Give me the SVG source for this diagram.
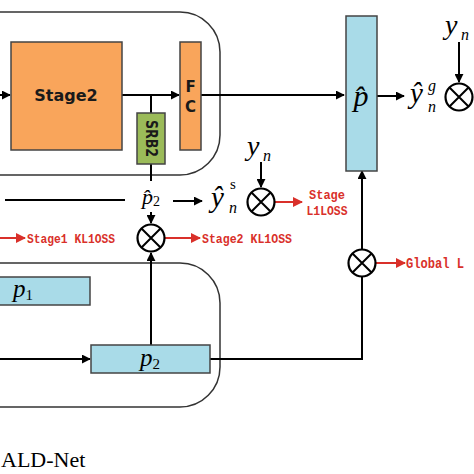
<svg xmlns="http://www.w3.org/2000/svg" width="474" height="474" viewBox="0 0 474 474">
<style>
.frame{fill:none;stroke:#333;stroke-width:1.5}
.ln{fill:none;stroke:#000;stroke-width:2}
.rl{fill:none;stroke:#d9302a;stroke-width:2}
.box{stroke:#444;stroke-width:1.5}
.or{fill:#f9a55b}
.gr{fill:#9bbb59}
.bl{fill:#a9dbe8}
.lbl{font-family:"DejaVu Sans",sans-serif;font-weight:bold;fill:#1a1a1a}
.m{font-family:"Liberation Serif",serif;font-style:italic;fill:#000}
.mu{font-family:"Liberation Serif",serif;fill:#000}
.red{font-family:"Liberation Mono",monospace;font-weight:bold;fill:#d9302a}
.cx{fill:#fff;stroke:#000;stroke-width:2.2}
</style>
<defs>
<marker id="ah" viewBox="0 0 10 10" refX="9" refY="5" markerWidth="9" markerHeight="9" markerUnits="userSpaceOnUse" orient="auto"><path d="M0,0L10,5L0,10z" fill="#000"/></marker>
<marker id="ahr" viewBox="0 0 10 10" refX="9" refY="5" markerWidth="10" markerHeight="10" markerUnits="userSpaceOnUse" orient="auto"><path d="M0,0L10,5L0,10z" fill="#d9302a"/></marker>
</defs>
<rect width="474" height="474" fill="#fff"/>
<g id="frames">
<path class="frame" d="M-10,12H180A40,40 0 0 1 220,52V135A40,40 0 0 1 180,175H-10"/>
<path class="frame" d="M-10,263H180A40,40 0 0 1 220,303V367A40,40 0 0 1 180,407H-10"/>
</g>
<g id="connectors">
<path class="ln" d="M0,95H10" marker-end="url(#ah)"/>
<path class="ln" d="M122,95H179" marker-end="url(#ah)"/>
<path class="ln" d="M151,95V113"/>
<path class="ln" d="M151,164V181"/>
<path class="ln" d="M201,95H344" marker-end="url(#ah)"/>
<path class="ln" d="M377,96H404" marker-end="url(#ah)"/>
<path class="ln" d="M459,42V82" marker-end="url(#ah)"/>
<path class="ln" d="M5,200H125"/>
<path class="ln" d="M173,201H202" marker-end="url(#ah)"/>
<path class="ln" d="M151,212V223" marker-end="url(#ah)"/>
<path class="ln" d="M261,162V187" marker-end="url(#ah)"/>
<path class="ln" d="M0,359H90" marker-end="url(#ah)"/>
<path class="ln" d="M151,345V253" marker-end="url(#ah)"/>
<path class="ln" d="M210,359H362V277"/>
<path class="ln" d="M362,249V171" marker-end="url(#ah)"/>
<path class="rl" d="M0,238H25" marker-end="url(#ahr)"/>
<path class="rl" d="M165,238H200" marker-end="url(#ahr)"/>
<path class="rl" d="M275,202H302" marker-end="url(#ahr)"/>
<path class="rl" d="M376,263H405" marker-end="url(#ahr)"/>
</g>
<g id="stage2">
<rect class="box or" x="11" y="42" width="111" height="108"/>
<text class="lbl" x="66" y="101" font-size="16" text-anchor="middle">Stage2</text>
</g>
<g id="fc">
<rect class="box or" x="180" y="42" width="21" height="108"/>
<text class="lbl" x="190.5" y="92" font-size="15" text-anchor="middle">F</text>
<text class="lbl" x="190.5" y="112" font-size="15" text-anchor="middle">C</text>
</g>
<g id="srb2">
<rect class="box gr" x="137" y="113" width="28" height="51"/>
<text class="lbl" font-size="15" text-anchor="middle" transform="translate(146,138.5) rotate(90)" textLength="37" lengthAdjust="spacingAndGlyphs">SRB2</text>
</g>
<g id="phat">
<rect class="box bl" x="346" y="16" width="31" height="155"/>
<text class="m" x="361" y="106" font-size="30" text-anchor="middle">p̂</text>
</g>
<g id="p1">
<rect class="box bl" x="-5" y="277" width="95" height="28"/>
<text class="m" x="13" y="297" font-size="25">p<tspan class="mu" font-style="normal" font-size="15" dy="3">1</tspan></text>
</g>
<g id="p2">
<rect class="box bl" x="91" y="345" width="119" height="28"/>
<text class="m" x="140" y="366" font-size="25">p<tspan class="mu" font-style="normal" font-size="15" dy="3">2</tspan></text>
</g>
<g id="p2hat">
<text class="m" x="142" y="204" font-size="22">p̂<tspan font-style="normal" font-size="14" dy="2">2</tspan></text>
</g>
<g id="ys">
<text class="m" x="211" y="207" font-size="29">ŷ</text>
<text class="mu" x="230" y="189" font-size="15">s</text>
<text class="m" x="229" y="213" font-size="16">n</text>
</g>
<g id="yg">
<text class="m" x="410" y="103" font-size="29">ŷ</text>
<text class="m" x="428" y="91" font-size="16">g</text>
<text class="m" x="428" y="112" font-size="16">n</text>
</g>
<g id="yn-top">
<text class="m" x="445" y="34" font-size="28">y</text>
<text class="m" x="461" y="40" font-size="16">n</text>
</g>
<g id="yn-mid">
<text class="m" x="247" y="155" font-size="28">y</text>
<text class="m" x="263" y="161" font-size="16">n</text>
</g>
<g id="mul-g">
<circle class="cx" cx="459" cy="97" r="13.5"/>
<path class="ln" d="M449.5,87.5L468.5,106.5M468.5,87.5L449.5,106.5"/>
</g>
<g id="mul-s">
<circle class="cx" cx="261" cy="202" r="13.5"/>
<path class="ln" d="M251.5,192.5L270.5,211.5M270.5,192.5L251.5,211.5"/>
</g>
<g id="mul-kl">
<circle class="cx" cx="151" cy="238" r="13.5"/>
<path class="ln" d="M141.5,228.5L160.5,247.5M160.5,228.5L141.5,247.5"/>
</g>
<g id="mul-global">
<circle class="cx" cx="362" cy="263" r="13.5"/>
<path class="ln" d="M352.5,253.5L371.5,272.5M371.5,253.5L352.5,272.5"/>
</g>
<g id="labels">
<text class="red" x="27" y="243" font-size="13" textLength="88" lengthAdjust="spacingAndGlyphs">Stage1 KL1OSS</text>
<text class="red" x="202" y="243" font-size="13" textLength="90" lengthAdjust="spacingAndGlyphs">Stage2 KL1OSS</text>
<text class="red" x="327" y="199" font-size="13" text-anchor="middle" textLength="36" lengthAdjust="spacingAndGlyphs">Stage</text>
<text class="red" x="327" y="215" font-size="13" text-anchor="middle" textLength="41" lengthAdjust="spacingAndGlyphs">L1LOSS</text>
<text class="red" x="406" y="268" font-size="14" textLength="58" lengthAdjust="spacingAndGlyphs">Global L</text>
<text class="mu" x="1" y="467" font-size="22">ALD-Net</text>
</g>
</svg>
